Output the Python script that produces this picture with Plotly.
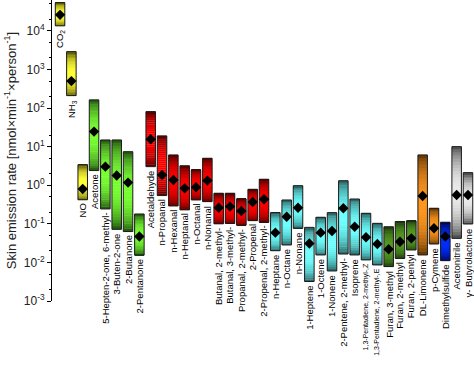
import plotly.graph_objects as go
import numpy as np

names = ["CO<sub>2</sub>", "NH<sub>3</sub>", "NO", "Acetone", "5-Hepten-2-one, 6-methyl-",
         "3-Buten-2-one", "2-Butanone", "2-Pentanone", "Acetaldehyde", "n-Propanal",
         "n-Hexanal", "n-Heptanal", "n-Octanal", "n-Nonanal", "Butanal, 2-methyl-",
         "Butanal, 3-methyl-", "Propanal, 2-methyl-", "2-Propenal", "2-Propenal, 2-methyl-",
         "n-Heptane", "n-Octane", "n-Nonane", "1-Heptene", "1-Octene", "1-Nonene",
         "2-Pentene, 2-methyl-", "Isoprene", "1,3-Pentadiene, 2-methyl-,Z",
         "1,3-Pentadiene, 2-methyl-,E", "Furan, 3-methyl", "Furan, 2-methyl",
         "Furan, 2-pentyl", "DL-Limonene", "p-Cymene", "Dimethylsulfide",
         "Acetonitrile", "γ- Butyrolactone"]

high = [5.4e4, 2900, 3.4, 163, 14.9, 14.9, 7.4, 0.18, 81, 19, 6.1, 3.2, 2.5, 5.0,
        0.62, 0.62, 0.44, 0.785, 1.43, 0.195, 0.415, 0.975, 0.081, 0.148, 0.195,
        1.31, 0.44, 0.1875, 0.103, 0.084, 0.114, 0.119, 6.1, 0.253, 0.11, 10, 2.12]
low = [1.35e4, 210, 0.42, 2.4, 0.243, 0.072, 0.063, 0.0155, 3.03, 0.54, 0.29, 0.23,
       0.415, 0.376, 0.10, 0.103, 0.093, 0.121, 0.11, 0.0201, 0.0283, 0.0766, 0.0032,
       0.0156, 0.006, 0.0165, 0.0156, 0.0116, 0.0086, 0.0078, 0.0128, 0.021, 0.0156,
       0.030, 0.0111, 0.042, 0.099]
mean = [2.6e4, 500, 0.80, 24.5, 3.03, 1.78, 1.17, 0.047, 15.6, 1.85, 1.37, 0.83, 0.885,
        1.32, 0.262, 0.279, 0.215, 0.369, 0.433, 0.059, 0.153, 0.262, 0.031, 0.059,
        0.065, 0.253, 0.084, 0.0448, 0.030, 0.0219, 0.0344, 0.042, 0.527, 0.0766,
        0.0468, 0.56, 0.56]
groups = ["gas"] * 3 + ["ketone"] * 5 + ["aldehyde"] * 11 + ["hydrocarbon"] * 10 + \
         ["furan"] * 3 + ["terpene"] * 2 + ["sulfide"] + ["nitrile"] * 2

group_colors = {  # (bright, dark)
    "gas": ((255, 255, 55), (70, 65, 0)),
    "ketone": ((120, 255, 50), (20, 60, 10)),
    "aldehyde": ((255, 0, 0), (60, 0, 0)),
    "hydrocarbon": ((110, 255, 255), (30, 75, 75)),
    "furan": ((85, 155, 35), (20, 45, 10)),
    "terpene": ((255, 150, 30), (75, 40, 0)),
    "sulfide": ((0, 45, 255), (0, 0, 60)),
    "nitrile": ((235, 235, 235), (50, 50, 50)),
}

tickvals = [1e-3, 1e-2, 1e-1, 1, 10, 100, 1e3, 1e4]
ticktext = ["10<sup>-3</sup>", "10<sup>-2</sup>", "10<sup>-1</sup>", "10<sup>0</sup>",
            "10<sup>1</sup>", "10<sup>2</sup>", "10<sup>3</sup>", "10<sup>4</sup>"]

x = np.arange(len(names))
lo = np.array(low)
hi = np.array(high)
ratio = hi / lo
bw = 0.84

fig = go.Figure()

N = 30
for k in range(N):
    t = (k + 0.5) / N
    m = np.sin(np.pi * t) ** 0.6
    cols = []
    for g in groups:
        b, d = group_colors[g]
        c = [int(d[j] + (b[j] - d[j]) * m) for j in range(3)]
        cols.append(f"rgb({c[0]},{c[1]},{c[2]})")
    base = lo * ratio ** (k / N)
    top = lo * ratio ** (min(k + 1.15, N) / N)
    fig.add_trace(go.Bar(x=x, y=top - base, base=base, width=bw,
                         marker=dict(color=cols, line=dict(width=0)),
                         showlegend=False, hoverinfo="skip"))

fig.add_trace(go.Bar(x=x, y=hi - lo, base=lo, width=bw,
                     marker=dict(color="rgba(0,0,0,0)", line=dict(color="#1a1a1a", width=1)),
                     showlegend=False, hoverinfo="skip"))

fig.add_trace(go.Scatter(x=x, y=mean, mode="markers",
                         marker=dict(symbol="diamond", size=8, color="black"),
                         showlegend=False))

for i, n in enumerate(names):
    small = n.startswith("1,3-")
    fig.add_annotation(x=i, y=np.log10(low[i]), text=n, textangle=-90,
                       xanchor="center", yanchor="top", yshift=-2, showarrow=False,
                       font=dict(family="Liberation Sans, Arial", size=7 if small else 9.5,
                                 color="black"))

fig.update_layout(
    width=474, height=377,
    margin=dict(l=52, r=0, t=0, b=76),
    barmode="overlay",
    plot_bgcolor="white", paper_bgcolor="white",
    font=dict(family="Liberation Sans, Arial", color="black"),
)
fig.update_xaxes(range=[-0.71, 36.53], visible=False)
fig.update_yaxes(type="log", range=[-3, 4.8], tickvals=tickvals, ticktext=ticktext,
                 showgrid=False, zeroline=False, showline=True, linecolor="black",
                 linewidth=1, ticks="outside", ticklen=4, tickcolor="black",
                 tickfont=dict(size=12, color="#222"), automargin=False,
                 minor=dict(ticks="outside", ticklen=2, tickcolor="black", showgrid=False),
                 title=dict(text="Skin emission rate [nmol×min<sup>-1</sup>×person<sup>-1</sup>]",
                            font=dict(size=13, color="#222"), standoff=4))

fig.write_html("out.html", config={"displayModeBar": False},
               post_script="document.body.style.margin='0';")
